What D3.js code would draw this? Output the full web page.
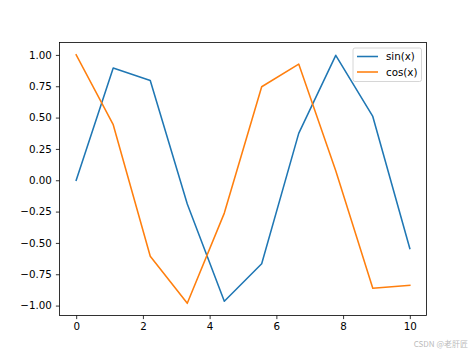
<!DOCTYPE html>
<html lang="en">
<head>
<meta charset="UTF-8">
<script src="https://d3js.org/d3.v7.min.js"></script>
<style>
  body { margin: 0; background: #fff; }
  text { font-family: "DejaVu Sans", sans-serif; }
</style>
</head>
<body>
<svg id="chart" width="474" height="355"></svg>
<script>
// data
var xs = [0, 1.11, 2.22, 3.33, 4.44, 5.56, 6.67, 7.78, 8.89, 10];
var sinVals = [0, 0.896, 0.796, -0.190, -0.965, -0.666, 0.374, 0.997, 0.509, -0.544];
var cosVals = [1, 0.443, -0.606, -0.982, -0.262, 0.746, 0.927, 0.076, -0.861, -0.839];
var xTicks = [0, 2, 4, 6, 8, 10];
var yTicks = [1.00, 0.75, 0.50, 0.25, 0.00, -0.25, -0.50, -0.75, -1.00];
var seriesNames = ["sin(x)", "cos(x)"];
var colors = ["#1f77b4", "#ff7f0e"];

var plotLeft = 59.5, plotRight = 426.5, plotTop = 42.5, plotBottom = 315.5;

var svg = d3.select("#chart");

var x = d3.scaleLinear().domain([-0.5, 10.5]).range([plotLeft, plotRight]);
var y = d3.scaleLinear().domain([-1.0791, 1.0991]).range([plotBottom, plotTop]);

var fmt = function(d) { return d.toFixed(2).replace("-", "\u2212"); };

var xAxis = svg.append("g")
    .attr("transform", "translate(0," + plotBottom + ")")
    .call(d3.axisBottom(x).tickValues(xTicks).tickSize(3.6).tickPadding(4).tickFormat(d3.format("d")));
var yAxis = svg.append("g")
    .attr("transform", "translate(" + plotLeft + ",0)")
    .call(d3.axisLeft(y).tickValues(yTicks).tickSize(3.6).tickPadding(4).tickFormat(fmt));

[xAxis, yAxis].forEach(function(a) {
    a.select(".domain").remove();
    a.selectAll("line").attr("stroke", "#000").attr("stroke-width", 0.8);
    a.selectAll("text").attr("font-size", "10.3px").attr("fill", "#000")
        .style("font-family", "'DejaVu Sans', sans-serif");
});

var line = d3.line()
    .x(function(d, i) { return x(xs[i]); })
    .y(function(d) { return y(d); });

[sinVals, cosVals].forEach(function(vals, k) {
    svg.append("path")
        .datum(vals)
        .attr("d", line)
        .attr("fill", "none")
        .attr("stroke", colors[k])
        .attr("stroke-width", 1.55)
        .attr("stroke-linejoin", "round")
        .attr("stroke-linecap", "square");
});

// axes frame
svg.append("rect")
    .attr("x", plotLeft).attr("y", plotTop)
    .attr("width", plotRight - plotLeft).attr("height", plotBottom - plotTop)
    .attr("fill", "none").attr("stroke", "#000").attr("stroke-width", 0.8);

// legend
var lg = svg.append("g").attr("transform", "translate(353,48)");
lg.append("rect")
    .attr("width", 68.5).attr("height", 33.5).attr("rx", 2)
    .attr("fill", "#fff").attr("fill-opacity", 0.8)
    .attr("stroke", "#ccc").attr("stroke-width", 0.8);
seriesNames.forEach(function(name, k) {
    var yy = 8.5 + k * 15.5;
    lg.append("line")
        .attr("x1", 4).attr("x2", 25).attr("y1", yy).attr("y2", yy)
        .attr("stroke", colors[k]).attr("stroke-width", 1.55);
    lg.append("text")
        .attr("x", 33).attr("y", yy).attr("dy", "0.35em")
        .attr("font-size", "10.3px").attr("fill", "#000")
        .text(name);
});

// watermark
svg.append("text")
    .attr("x", 468).attr("y", 347)
    .attr("text-anchor", "end")
    .attr("font-size", "8px").attr("fill", "#bbb")
    .style("font-family", "'Noto Sans CJK SC', sans-serif")
    .text("CSDN @老肝匠");
</script>
</body>
</html>
